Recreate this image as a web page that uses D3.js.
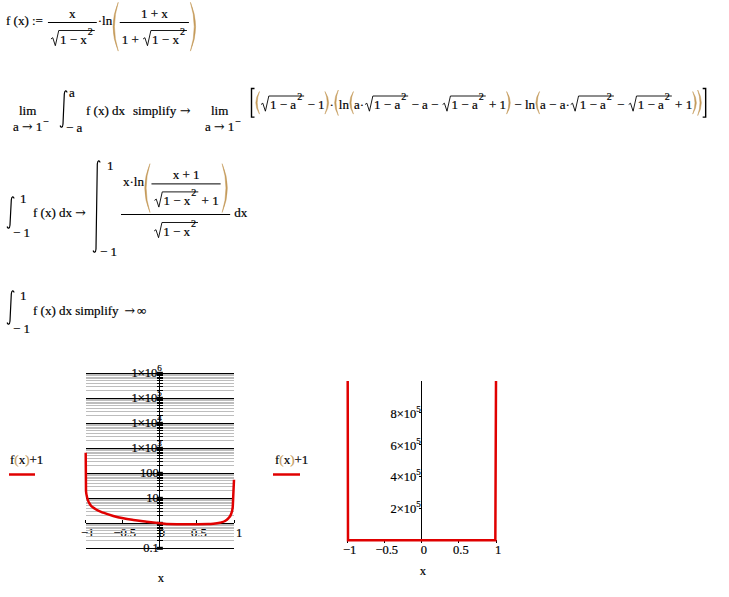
<!DOCTYPE html>
<html>
<head>
<meta charset="utf-8">
<script src="https://cdn.jsdelivr.net/npm/d3@7"></script>
<style>
  body { margin: 0; background: #fff; }
  svg { display: block; }
  text { stroke: #000; stroke-width: 0.2px; }
</style>
</head>
<body>
<script>
// ---- values ----
const xTicks = [-1, -0.5, 0, 0.5, 1];
const xTickLabels = ["−1", "−0.5", "0", "0.5", "1"];
const decades = [0.1, 1, 10, 100, 1e3, 1e4, 1e5, 1e6];
const decadeLabels = [["0.1", ""], null, ["10", ""], ["100", ""], ["1×10", "3"], ["1×10", "4"], ["1×10", "5"], ["1×10", "6"]];
const linTicks = [2e5, 4e5, 6e5, 8e5];
const linTickLabels = [["2×10", "5"], ["4×10", "5"], ["6×10", "5"], ["8×10", "5"]];
// f(x)+1 as traced on the log plot
const curveX = [-1, -0.996, -0.978, -0.942, -0.875, -0.763, -0.628, -0.493, -0.358, -0.177, 0, 0.09, 0.37, 0.653, 0.721, 0.811, 0.879, 0.923, 0.96, 0.982, 0.991, 1];
const curveY = [667, 19.6, 10, 5.75, 3.84, 2.65, 1.96, 1.58, 1.36, 1.16, 1.0, 0.93, 0.91, 0.93, 0.96, 1.06, 1.23, 1.58, 2.3, 4.2, 14.5, 55];
// same trace on the linear plot (ends run off the top)
const linCurveX = [-1, -0.996, 0, 0.991, 1];
const linCurveY = [1e6, 19.6, 1.0, 14.5, 1e6];

const SERIF = "'Liberation Serif', 'Times New Roman', serif";
const ARROW_FONT = "'DejaVu Serif', serif";
const FS = 13, SUP_FS = 10, RISE = 9;
const TAN = "#c49a5a";
const RED = "#e00000";

const svg = d3.select("body").append("svg")
  .attr("width", 729).attr("height", 597)
  .attr("font-family", SERIF);

// ---- tiny box layout for the math ----
const ruler = svg.append("text").attr("visibility", "hidden");
const nb = s => s.replace(/ /g, "\u00a0");
function textWidth(s, size, family) {
  ruler.attr("font-size", size).attr("font-family", family || SERIF).text(nb(s));
  return ruler.node().getComputedTextLength();
}

function T(s, size = FS, family = null) {
  return {
    w: textWidth(s, size, family), a: size * 0.7, d: size * 0.2,
    draw(g, x, y) {
      const t = g.append("text").attr("x", x).attr("y", y).attr("font-size", size).text(nb(s));
      if (family) t.attr("font-family", family);
    }
  };
}
const arrow = () => T("→", FS - 0.5, ARROW_FONT);
const Sp = w => ({ w, a: 0, d: 0, draw() {} });
const box = b => (typeof b === "string" ? T(b) : b);

function Row(...items) {
  items = items.map(box);
  return {
    w: d3.sum(items, b => b.w), a: d3.max(items, b => b.a), d: d3.max(items, b => b.d),
    draw(g, x, y) { items.forEach(b => { b.draw(g, x, y); x += b.w; }); }
  };
}

function Sup(base, e) {
  base = box(base);
  const ex = T(e, SUP_FS);
  return {
    w: base.w + ex.w + 1, a: Math.max(base.a, RISE + ex.a), d: base.d,
    draw(g, x, y) { base.draw(g, x, y); ex.draw(g, x + base.w + 1, y - RISE); }
  };
}

function Sqrt(body) {
  body = box(body);
  const top = FS, rw = 10;
  return {
    w: rw + body.w + 2, a: Math.max(top + 1, body.a), d: body.d + 1,
    draw(g, x, y) {
      g.append("path").attr("fill", "none").attr("stroke", "#000").attr("stroke-width", 0.9)
        .attr("d", `M${x + 1},${y - 4.5}L${x + 2.8},${y - 5.8}L${x + 5.4},${y + 2.2}L${x + 8.8},${y - top}H${x + rw + body.w + 2}`);
      body.draw(g, x + rw, y);
    }
  };
}

function Paren(body, color = TAN, square = false) {
  body = box(body);
  const tall = body.a + body.d > 30;
  const a = body.a + (tall ? 6.5 : 1.5), d = body.d + (tall ? 4 : 1.5), pw = tall ? 6 : 4.5;
  return {
    w: body.w + 2 * pw + 1, a, d,
    draw(g, x, y) {
      const t = y - a, b = y + d, m = y + (d - a) / 2, r = x + body.w + 2 * pw + 1;
      if (square) {
        g.append("path").attr("fill", "none").attr("stroke", color).attr("stroke-width", 1.4)
          .attr("d", `M${x + pw},${t}H${x + 1.5}V${b}H${x + pw}M${r - pw},${t}H${r - 1.5}V${b}H${r - pw}`);
      } else {
        g.append("path").attr("fill", color).attr("stroke", color).attr("stroke-width", 0.5)
          .attr("d", `M${x + pw},${t}Q${x + 1.6 - pw},${m} ${x + pw},${b}Q${x + 4.4 - pw},${m} ${x + pw},${t}Z` +
            `M${r - pw},${t}Q${r - 1.6 + pw},${m} ${r - pw},${b}Q${r - 4.4 + pw},${m} ${r - pw},${t}Z`);
      }
      body.draw(g, x + pw + 0.5, y);
    }
  };
}

function Frac(num, den) {
  num = box(num); den = box(den);
  const w = Math.max(num.w, den.w) + 4, axis = 2.5, gn = 2, gd = 5;
  return {
    w: w + 2, a: axis + gn + num.d + num.a, d: gd + den.a + den.d - axis,
    draw(g, x, y) {
      const by = y - axis;
      g.append("line").attr("x1", x + 1).attr("x2", x + 1 + w).attr("y1", by).attr("y2", by)
        .attr("stroke", "#000");
      num.draw(g, x + 1 + (w - num.w) / 2, by - gn - num.d);
      den.draw(g, x + 1 + (w - den.w) / 2, by + gd + den.a);
    }
  };
}

function integral(g, x, top, bot) {
  g.append("path").attr("fill", "none").attr("stroke", "#000").attr("stroke-width", 1.2)
    .attr("d", `M${x + 7},${top + 2.5}C${x + 6.5},${top} ${x + 4.6},${top} ${x + 4.3},${top + 4}` +
      `L${x + 3},${bot - 4}C${x + 2.7},${bot} ${x + 0.8},${bot} ${x + 0.2},${bot - 2.5}`);
}

function lim(g, x, y) {
  const under = Row("a ", arrow(), " 1"), top = T("lim");
  top.draw(g, x + (under.w - top.w) / 2, y);
  under.draw(g, x, y + 16);
  T("−", SUP_FS).draw(g, x + under.w + 1, y + 10);
}

const eq = svg.append("g");
const sqx = () => Sqrt(Row("1 − ", Sup("x", "2")));
const sqa = () => Sqrt(Row("1 − ", Sup("a", "2")));

// f(x) := x/sqrt(1-x^2) * ln((1+x)/(1+sqrt(1-x^2)))
Row(
  "f (x) :=", Sp(4),
  Frac("x", sqx()), "·ln",
  Paren(Frac("1 + x", Row("1 + ", sqx())))
).draw(eq, 6, 25);

// limit of the symmetric integral
const B2 = 115;
lim(eq, 13, B2);
integral(eq, 60, 90, 128);
T("a").draw(eq, 69, 97);
T("− a").draw(eq, 66, 132);
T("f (x) dx").draw(eq, 86, B2);
T("simplify").draw(eq, 133, B2);
arrow().draw(eq, 180, B2);
lim(eq, 205, B2);
Paren(Row(
  Paren(Row(sqa(), " − 1")), "·",
  Paren(Row(
    "ln", Paren(Row("a·", sqa(), " − a − ", sqa(), " + 1")),
    " − ln", Paren(Row("a − a·", sqa(), " − ", sqa(), " + 1"))
  ))
), "#000", true).draw(eq, 250, 109);

// definite integral
const B3 = 217;
integral(eq, 7, 196, 229);
T("1").draw(eq, 20, 203);
T("− 1").draw(eq, 13, 237);
Row("f (x) dx ", arrow()).draw(eq, 33, B3);
integral(eq, 93, 160, 253);
T("1").draw(eq, 107, 170);
T("− 1").draw(eq, 100, 256);
Row(
  Frac(Row("x·ln", Paren(Frac("x + 1", Row(sqx(), " + 1")))), sqx()),
  Sp(3), "dx"
).draw(eq, 120, B3);

// simplify
const B4 = 315;
integral(eq, 7, 290, 325);
T("1").draw(eq, 20, 300);
T("− 1").draw(eq, 13, 333);
Row("f (x) dx simplify", Sp(6), arrow(), Sp(2), "∞").draw(eq, 33, B4);

// legends
function legend(x, y) {
  const t = svg.append("text").attr("x", x).attr("y", y).attr("font-size", 13);
  t.append("tspan").text("f");
  t.append("tspan").attr("fill", TAN).attr("stroke", TAN).text("(");
  t.append("tspan").text("x");
  t.append("tspan").attr("fill", TAN).attr("stroke", TAN).text(")");
  t.append("tspan").text("+1");
}
legend(10, 464);
legend(275, 464);
svg.append("line").attr("x1", 9).attr("x2", 35).attr("y1", 474.5).attr("y2", 474.5).attr("stroke", RED).attr("stroke-width", 2.5);
svg.append("line").attr("x1", 273).attr("x2", 300).attr("y1", 474.5).attr("y2", 474.5).attr("stroke", RED).attr("stroke-width", 2.5);

// ---- left plot: log y ----
const xL = d3.scaleLinear().domain([-1, 1]).range([85.7, 234]);
const yL = d3.scaleLog().domain([0.1, 1e6]).range([548.3, 373.3]);
const left = svg.append("g").attr("font-size", 12.5);

// tick labels go under the grid, the minor lines run through them
left.selectAll(".xlab").data(xTicks).join("text")
  .attr("x", d => xL(d) + (d === 1 ? 5 : 2)).attr("y", 537).attr("text-anchor", "middle")
  .text((d, i) => xTickLabels[i]);

const minor = [];
decades.slice(0, -1).forEach(d => d3.range(2, 10).forEach(m => minor.push(d * m)));
left.selectAll(".minor").data(minor).join("line")
  .attr("x1", xL(-1)).attr("x2", xL(1))
  .attr("y1", d => yL(d)).attr("y2", d => yL(d))
  .attr("stroke", "#bdbdbd").attr("shape-rendering", "crispEdges");
left.selectAll(".major").data(decades).join("line")
  .attr("x1", xL(-1)).attr("x2", xL(1))
  .attr("y1", d => yL(d)).attr("y2", d => yL(d))
  .attr("stroke", "#000").attr("shape-rendering", "crispEdges");

// y axis with log ticks
const x0 = xL(0);
left.append("line").attr("x1", x0).attr("x2", x0).attr("y1", yL(1e6)).attr("y2", yL(0.1))
  .attr("stroke", "#000").attr("shape-rendering", "crispEdges");
left.selectAll(".ytk").data(minor).join("line")
  .attr("x1", x0 - 3).attr("x2", x0 + 3).attr("y1", d => yL(d)).attr("y2", d => yL(d))
  .attr("stroke", "#000").attr("shape-rendering", "crispEdges");
left.selectAll(".ytkM").data(decades).join("line")
  .attr("x1", x0 - 3).attr("x2", x0 + 3).attr("y1", d => yL(d)).attr("y2", d => yL(d))
  .attr("stroke", "#000").attr("stroke-width", 3);

// x ticks
left.selectAll(".xtk").data(xTicks).join("line")
  .attr("x1", d => xL(d)).attr("x2", d => xL(d)).attr("y1", yL(1) - 3).attr("y2", yL(1))
  .attr("stroke", "#000").attr("shape-rendering", "crispEdges");

const ylab = left.selectAll(".ylab").data(decades.map((d, i) => [d, decadeLabels[i]]).filter(d => d[1]))
  .join("text")
  .attr("x", d => (d[1][1] ? x0 + 2 : x0 - 1))
  .attr("y", d => yL(d[0]) + 4).attr("text-anchor", "end");
ylab.append("tspan").text(d => d[1][0]);
ylab.append("tspan").attr("font-size", 9).attr("dy", -6).text(d => d[1][1]);

left.append("path")
  .datum(d3.zip(curveX, curveY))
  .attr("fill", "none").attr("stroke", RED).attr("stroke-width", 2.5)
  .attr("d", d3.line().x(d => xL(d[0])).y(d => yL(d[1])).curve(d3.curveMonotoneX));

left.append("text").attr("x", x0 + 1).attr("y", 582).attr("text-anchor", "middle").text("x");

// ---- right plot: linear y ----
const xR = d3.scaleLinear().domain([-1, 1]).range([347.7, 496]);
const yR = d3.scaleLinear().domain([0, 1e6]).range([540.2, 380.9]);
const right = svg.append("g").attr("font-size", 12.5);

right.append("line").attr("x1", xR(-1)).attr("x2", xR(1)).attr("y1", yR(0)).attr("y2", yR(0))
  .attr("stroke", "#000").attr("shape-rendering", "crispEdges");
right.append("line").attr("x1", xR(0)).attr("x2", xR(0)).attr("y1", yR(1e6)).attr("y2", yR(0))
  .attr("stroke", "#000").attr("shape-rendering", "crispEdges");
right.selectAll(".xtk").data(xTicks).join("line")
  .attr("x1", d => xR(d)).attr("x2", d => xR(d)).attr("y1", yR(0)).attr("y2", yR(0) + 3)
  .attr("stroke", "#000").attr("shape-rendering", "crispEdges");
right.selectAll(".xlab").data(xTicks).join("text")
  .attr("x", d => xR(d) + 2).attr("y", 554).attr("text-anchor", "middle")
  .text((d, i) => xTickLabels[i]);
right.selectAll(".ytk").data(linTicks).join("line")
  .attr("x1", xR(0) - 3).attr("x2", xR(0)).attr("y1", d => yR(d)).attr("y2", d => yR(d))
  .attr("stroke", "#000").attr("shape-rendering", "crispEdges");
const rlab = right.selectAll(".ylab").data(linTicks).join("text")
  .attr("x", xR(0) - 1).attr("y", d => yR(d) + 5).attr("text-anchor", "end");
rlab.append("tspan").text((d, i) => linTickLabels[i][0]);
rlab.append("tspan").attr("font-size", 9).attr("dy", -6).text((d, i) => linTickLabels[i][1]);

right.append("path")
  .datum(d3.zip(linCurveX, linCurveY))
  .attr("fill", "none").attr("stroke", RED).attr("stroke-width", 2.5)
  .attr("d", d3.line().x(d => xR(d[0])).y(d => yR(d[1])));

right.append("text").attr("x", xR(0) + 1).attr("y", 575).attr("text-anchor", "middle").text("x");
</script>
</body>
</html>
